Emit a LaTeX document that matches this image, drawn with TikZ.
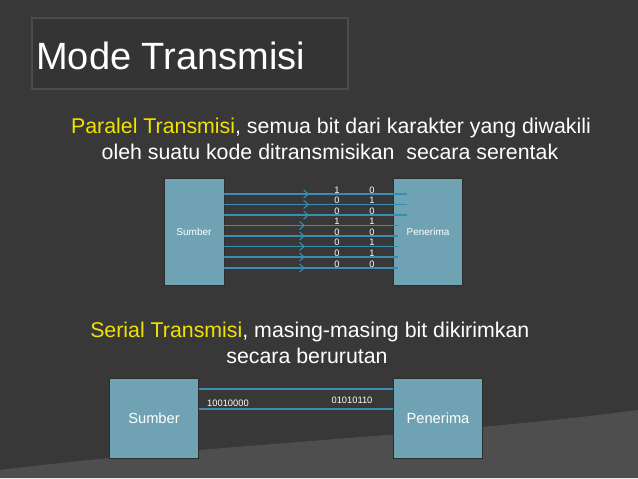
\documentclass[tikz,border=0pt]{standalone}
\usepackage{fontspec}
\setmainfont{Liberation Sans}
\usetikzlibrary{decorations.markings}
\definecolor{bg}{HTML}{383838}
\definecolor{bgl}{HTML}{4E4E4E}
\definecolor{boxc}{HTML}{6FA3B3}
\definecolor{wire}{HTML}{3A8DB0}
\definecolor{yel}{HTML}{F2E200}
\tikzset{
 blk/.style={draw=bg!80!black, fill=boxc, text=white, inner sep=0pt},
 wr/.style={draw=wire, line width=0.8pt},
 arr/.style={wr, postaction={decorate}, decoration={markings, mark=at position #1 with {\draw[wire,line width=0.8pt] (-3.5pt,3pt)--(0,0)--(-3.5pt,-3pt);}}},
 dig/.style={text=white, font=\fontsize{7}{7}\selectfont, inner sep=0pt},
 body/.style={text=white, font=\fontsize{16}{18}\selectfont, inner sep=0pt}
}
\begin{document}
\begin{tikzpicture}[x=0.75pt,y=-0.75pt]
\useasboundingbox (0,0) rectangle (638,478);
\fill[bg] (0,0) rectangle (638,478);
\fill[bgl] (0,478) -- (0,470) .. controls (200,445) and (450,435) .. (638,410) -- (638,478) -- cycle;
% title
\draw[black!70, fill=bg!92!black, line width=1pt] (32,18) rectangle (348,89);
\node[anchor=west, text=white, font=\fontsize{28.5}{30}\selectfont, inner sep=0pt] (title) at (36,56) {Mode Transmisi};
% parallel text
\node[body] (p1) at (331,128) {\textcolor{yel}{Paralel Transmisi}, semua bit dari karakter yang diwakili};
\node[body] (p2) at (330,152) {oleh suatu kode ditransmisikan\ \ secara serentak};
% parallel boxes
\node[blk, minimum width=45pt, minimum height=80pt, font=\fontsize{7.5}{8}\selectfont] (s1) at (194,232) {Sumber};
\node[blk, minimum width=52pt, minimum height=80pt, font=\fontsize{7.5}{8}\selectfont] (r1) at (428,231.5) {Penerima};
\foreach \y/\a/\b/\e in {194/1/0/407,204.5/0/1/407,215/0/0/407,225.5/1/1/398,236/0/0/398,246.5/0/1/398,257/0/1/398,268/0/0/398}{
  \coordinate (e) at (\e,\y);
  \draw[arr=0.46] (s1.east |- e) -- (e);
  \node[dig] at (337,\y-4) {\a};
  \node[dig] at (372,\y-4) {\b};
}
% serial text
\node[body, anchor=west] (q1) at (90,332) {\textcolor{yel}{Serial Transmisi}, masing-masing bit dikirimkan};
\node[body] (q2) at (307,356) {secara berurutan};
% serial boxes
\node[blk, minimum width=67pt, minimum height=60pt, font=\fontsize{11}{12}\selectfont] (s2) at (154,418) {Sumber};
\node[blk, minimum width=67pt, minimum height=60pt, font=\fontsize{11}{12}\selectfont] (r2) at (438,418) {Penerima};
\coordinate (u) at (0,389);
\coordinate (d) at (0,409);
\draw[wr] (s2.east |- u) -- (r2.west |- u);
\draw[wr] (s2.east |- d) -- (r2.west |- d);
\node[dig] at (228,403) {10010000};
\node[dig] at (352,400) {01010110};
\end{tikzpicture}
\end{document}
